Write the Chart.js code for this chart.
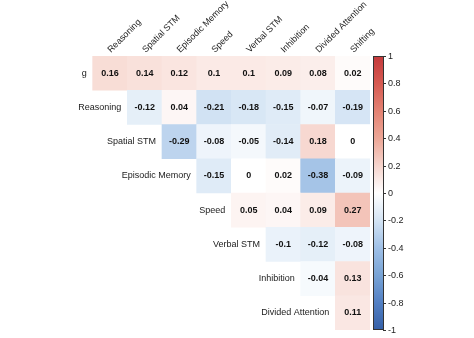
<!DOCTYPE html>
<html>
<head>
<meta charset="utf-8">
<script src="https://cdn.jsdelivr.net/npm/chart.js@4"></script>
<style>
  body { margin: 0; background: #fff; }
  canvas { display: block; }
</style>
</head>
<body>
<canvas id="corr-graph" width="474" height="338"></canvas>
<script>
// variables in the matrix (the "g" column is empty, only its row is shown)
const variables = ['g', 'Reasoning', 'Spatial STM', 'Episodic Memory', 'Speed', 'Verbal STM', 'Inhibition', 'Divided Attention', 'Shifting'];

// upper triangle, one array per row (values start right after the diagonal)
const rowG = [0.16, 0.14, 0.12, 0.1, 0.1, 0.09, 0.08, 0.02];
const rowReasoning = [-0.12, 0.04, -0.21, -0.18, -0.15, -0.07, -0.19];
const rowSpatialSTM = [-0.29, -0.08, -0.05, -0.14, 0.18, 0];
const rowEpisodicMemory = [-0.15, 0, 0.02, -0.38, -0.09];
const rowSpeed = [0.05, 0.04, 0.09, 0.27];
const rowVerbalSTM = [-0.1, -0.12, -0.08];
const rowInhibition = [-0.04, 0.13];
const rowDividedAttention = [0.11];

const colorbarTicks = [1, 0.8, 0.6, 0.4, 0.2, 0, -0.2, -0.4, -0.6, -0.8, -1];

// colour map (value -> rgb)
const cmapStops = [-1, -0.8, -0.6, -0.4, -0.2, 0, 0.2, 0.4, 0.6, 0.8, 1];
const cmapColors = [
    [52, 96, 168], [82, 128, 196], [120, 164, 214], [160, 192, 230], [212, 228, 244],
    [255, 255, 255],
    [246, 212, 204], [236, 166, 150], [228, 130, 114], [214, 90, 82], [196, 58, 60]
];

const FONT = 'Arial, "Liberation Sans", sans-serif';

function valueToColor(v) {
    for (let i = 0; i < cmapStops.length - 1; i++) {
        if (v >= cmapStops[i] && v <= cmapStops[i + 1]) {
            const t = (v - cmapStops[i]) / (cmapStops[i + 1] - cmapStops[i]);
            const a = cmapColors[i], b = cmapColors[i + 1];
            const c = a.map((x, k) => Math.round(x + (b[k] - x) * t));
            return 'rgb(' + c.join(',') + ')';
        }
    }
    return '#fff';
}

const rows = [rowG, rowReasoning, rowSpatialSTM, rowEpisodicMemory, rowSpeed, rowVerbalSTM, rowInhibition, rowDividedAttention];

// one floating bar per cell: column = variable, y = [row, row + 1]
const cells = [];
rows.forEach((row, r) => {
    row.forEach((v, k) => {
        const c = r + 1 + k;
        cells.push({ x: variables[c], y: [r, r + 1], v: v, r: r, c: c });
    });
});

// draws values in the cells, row/column names and the colour bar
const matrixLabels = {
    id: 'matrixLabels',
    afterDatasetsDraw(chart) {
        const ctx = chart.ctx;
        const xs = chart.scales.x, ys = chart.scales.y;
        const colW = xs.getPixelForValue(1) - xs.getPixelForValue(0);
        ctx.save();
        ctx.textBaseline = 'middle';
        // values
        ctx.font = 'bold 9px ' + FONT;
        ctx.fillStyle = '#111';
        ctx.textAlign = 'center';
        cells.forEach(cell => {
            ctx.fillText(String(cell.v), xs.getPixelForValue(cell.c), ys.getPixelForValue(cell.r + 0.5));
        });
        // row names, right aligned in the diagonal cell
        ctx.font = '9px ' + FONT;
        ctx.fillStyle = '#222';
        ctx.textAlign = 'right';
        rows.forEach((row, r) => {
            ctx.fillText(variables[r], xs.getPixelForValue(r) + colW / 2 - 6, ys.getPixelForValue(r + 0.5));
        });
        // column names, rotated 45 degrees above the grid
        ctx.textAlign = 'left';
        ctx.textBaseline = 'alphabetic';
        for (let c = 1; c < variables.length; c++) {
            ctx.save();
            ctx.translate(xs.getPixelForValue(c) + 1, chart.chartArea.top - 3);
            ctx.rotate(-Math.PI / 4);
            ctx.fillText(variables[c], 0, 0);
            ctx.restore();
        }
        // colour bar
        const cb = chart.scales.cb;
        const top = cb.getPixelForValue(1), bottom = cb.getPixelForValue(-1);
        const x0 = chart.chartArea.right + 3, w = 10;
        const grad = ctx.createLinearGradient(0, bottom, 0, top);
        cmapStops.forEach((s, i) => grad.addColorStop((s + 1) / 2, valueToColor(s)));
        ctx.fillStyle = grad;
        ctx.fillRect(x0, top, w, bottom - top);
        ctx.strokeStyle = '#333';
        ctx.lineWidth = 1;
        ctx.strokeRect(x0 + 0.5, top + 0.5, w, bottom - top - 1);
        ctx.textAlign = 'left';
        ctx.textBaseline = 'middle';
        ctx.fillStyle = '#222';
        colorbarTicks.forEach(t => {
            const y = Math.round(cb.getPixelForValue(t)) + 0.5;
            ctx.beginPath();
            ctx.moveTo(x0 + w, y);
            ctx.lineTo(x0 + w + 3, y);
            ctx.stroke();
            ctx.fillText(String(t), x0 + w + 5, y);
        });
        ctx.restore();
    }
};

function corrGraph() {
    const ctx = document.getElementById('corr-graph').getContext('2d');
    new Chart(ctx, {
        type: 'bar',
        data: {
            labels: variables,
            datasets: [{
                data: cells,
                backgroundColor: (c) => c.raw ? valueToColor(c.raw.v) : '#fff',
                borderWidth: 0,
                barPercentage: 1,
                categoryPercentage: 1
            }]
        },
        options: {
            responsive: false,
            animation: false,
            devicePixelRatio: 1,
            layout: { padding: { left: 58, right: 104, top: 0, bottom: 8 } },
            plugins: {
                legend: { display: false },
                tooltip: { enabled: false }
            },
            scales: {
                x: {
                    type: 'category',
                    position: 'top',
                    grid: { display: false, drawTicks: false },
                    border: { display: false },
                    ticks: { display: false },
                    afterFit: (axis) => { axis.height = 56; }
                },
                y: {
                    type: 'linear',
                    min: 0,
                    max: 8,
                    reverse: true,
                    display: false
                },
                cb: {
                    type: 'linear',
                    position: 'right',
                    min: -1,
                    max: 1,
                    display: false
                }
            }
        },
        plugins: [matrixLabels]
    });
}

window.onload = () => {
    corrGraph();
}
</script>
</body>
</html>
